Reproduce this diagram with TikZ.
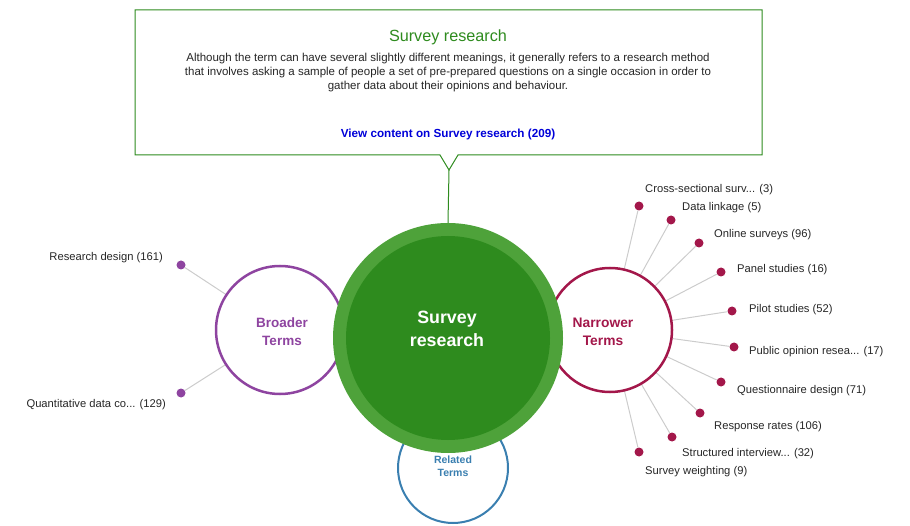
\documentclass[tikz,border=0pt]{standalone}
\usepackage{fontspec}
\setmainfont{Liberation Sans}
\definecolor{cg}{HTML}{2E8B1E}
\definecolor{cgl}{HTML}{4EA23A}
\definecolor{cp}{HTML}{8E44A0}
\definecolor{cr}{HTML}{A3174A}
\definecolor{cb}{HTML}{3A7FB0}
\definecolor{ln}{HTML}{CCCCCC}
\begin{document}
\begin{tikzpicture}[x=1pt,y=-1pt,
 dot/.style={circle,fill=#1,inner sep=0pt,minimum size=9pt},
 lab/.style={font=\fontsize{11.2}{12}\selectfont,text=black!85,inner sep=0pt},
 spoke/.style={draw=ln,line width=1pt}]
\useasboundingbox (0,0) rectangle (910,526);
% callout
\draw[cg,fill=white,line width=1pt] (135,10) -- (762,10) -- (762,155) -- (458,155) -- (449,170) -- (440,155) -- (135,155) -- cycle;
\node[text=cg,font=\fontsize{16.2}{18}\selectfont] (title) at (448,37) {Survey research};
\node[align=center,font=\fontsize{11.5}{14}\selectfont,text=black!85] (desc) at (448,73) {Although the term can have several slightly different meanings, it generally refers to a research method\\that involves asking a sample of people a set of pre-prepared questions on a single occasion in order to\\gather data about their opinions and behaviour.};
\node[text=blue!85!black,font=\bfseries\fontsize{11.7}{12}\selectfont] (view) at (448,134) {View content on Survey research (209)};
\coordinate (tip) at (449,170);
% circle centres
\coordinate (B) at (280,330);
\coordinate (N) at (610,330);
% dots
\foreach \n/\x/\y in {b1/181/265,b2/181/393}{\node[dot=cp] (\n) at (\x,\y) {};}
\foreach \n/\x/\y in {n1/639/206,n2/671/220,n3/699/243,n4/721/272,n5/732/311,n6/734/347,n7/721/382,n8/700/413,n9/672/437,n10/639/452}{\node[dot=cr] (\n) at (\x,\y) {};}
\foreach \n in {b1,b2}{\draw[spoke] (B) -- (\n);}
\foreach \n in {n1,n2,n3,n4,n5,n6,n7,n8,n9,n10}{\draw[spoke] (N) -- (\n);}
% circles
\node[circle,draw=cb,line width=2pt,fill=white,minimum size=110pt] (rel) at (453,468) {};
\node[text=cb,font=\bfseries\fontsize{10.5}{13}\selectfont,align=center] (rell) at (453,466) {Related\\Terms};
\node[circle,draw=cp,line width=2.5pt,fill=white,minimum size=128pt] (bro) at (B) {};
\node[circle,draw=cr,line width=2.5pt,fill=white,minimum size=124pt] (nar) at (N) {};
\node[text=cp,font=\bfseries\fontsize{13.5}{18}\selectfont,align=center] at (282,332) {Broader\\Terms};
\node[text=cr,font=\bfseries\fontsize{13.8}{18}\selectfont,align=center] at (603,332) {Narrower\\Terms};
\node[circle,fill=cgl,minimum size=230pt,inner sep=0pt] (ctr) at (448,338) {};
\node[circle,fill=cg,minimum size=204pt,inner sep=0pt] (ctri) at (448,338) {};
\node[text=white,font=\bfseries\fontsize{17.8}{23}\selectfont,align=center] (ctrl) at (447,329) {Survey\\research};
\draw[cg,line width=1pt] (tip) -- (ctr.north);
% labels
\node[lab,anchor=east] at (163,258) {Research design (161)};
\node[lab,anchor=east] at (166,405) {Quantitative data co... (129)};
\node[lab,anchor=west] at (645,190) {Cross-sectional surv... (3)};
\node[lab,anchor=west] at (682,208) {Data linkage (5)};
\node[lab,anchor=west] at (714,235) {Online surveys (96)};
\node[lab,anchor=west] at (737,270) {Panel studies (16)};
\node[lab,anchor=west] at (749,310) {Pilot studies (52)};
\node[lab,anchor=west] at (749,352) {Public opinion resea... (17)};
\node[lab,anchor=west] at (737,391) {Questionnaire design (71)};
\node[lab,anchor=west] at (714,427) {Response rates (106)};
\node[lab,anchor=west] at (682,454) {Structured interview... (32)};
\node[lab,anchor=west] at (645,472) {Survey weighting (9)};
\end{tikzpicture}
\end{document}
